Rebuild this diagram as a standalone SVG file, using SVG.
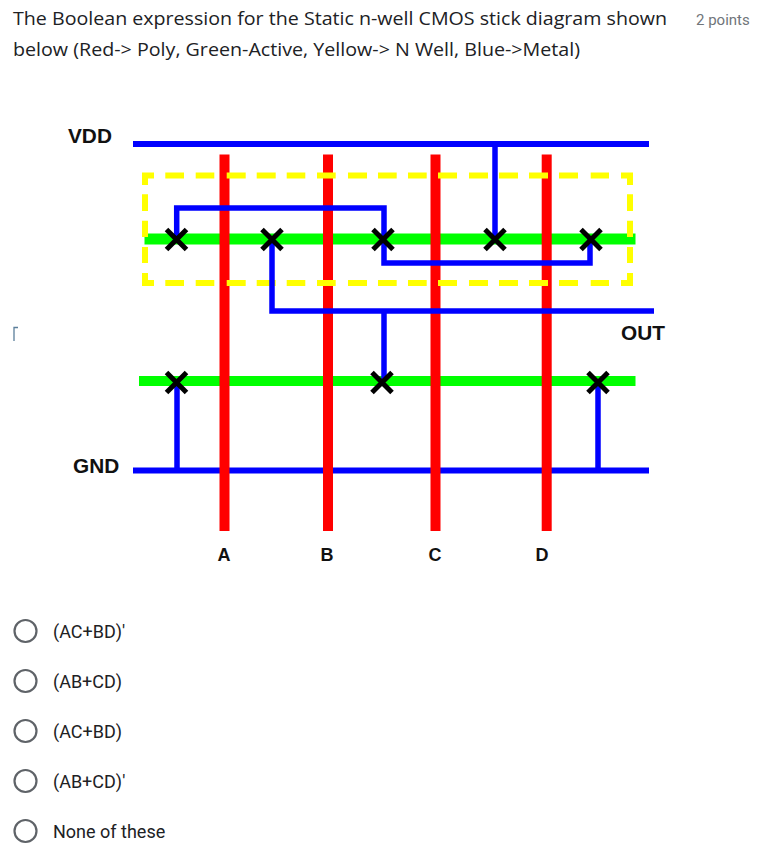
<svg xmlns="http://www.w3.org/2000/svg" width="759" height="861" viewBox="0 0 759 861">
<style>
.q{font-family:"Open Sans","Noto Sans",sans-serif;font-size:19px;fill:#202124}
.pts{font-family:Roboto,sans-serif;font-size:15px;fill:#70757a}
.lbl{font-family:"Liberation Sans",Arial,sans-serif;font-size:20.800px;font-weight:700;fill:#111}
.letter{font-family:"Liberation Sans",Arial,sans-serif;font-size:18px;font-weight:700;fill:#111;text-anchor:middle}
.opt{font-family:Roboto,sans-serif;font-size:18px;fill:#202124}
.radio{fill:none;stroke:#5f6368;stroke-width:2.2}
.m{fill:none;stroke:#0000ff;stroke-width:5.500}
.rail{fill:none;stroke:#0000ff;stroke-width:6}
.poly{fill:none;stroke:#ff0000;stroke-width:10}
.act{fill:none;stroke:#00ff00}
.well{fill:none;stroke:#ffff00;stroke-width:6}
.x{fill:none;stroke:#000;stroke-width:5}
</style>
<rect width="759" height="861" fill="#fff"/>
<g id="question">
<text class="q" x="13" y="25" textLength="654" lengthAdjust="spacingAndGlyphs">The Boolean expression for the Static n-well CMOS stick diagram shown</text>
<text class="q" x="13" y="55.500" textLength="567" lengthAdjust="spacingAndGlyphs">below (Red-&gt; Poly, Green-Active, Yellow-&gt; N Well, Blue-&gt;Metal)</text>
<text class="pts" x="696" y="25">2 points</text>
</g>
<path d="M14 341V327.500H18" fill="none" stroke="#5b7f9b" stroke-width="1.300"/>
<g id="active">
<path class="act" stroke-width="11" d="M144.500 239H635.500"/>
<path class="act" stroke-width="10" d="M139 381H635.500"/>
</g>
<g id="gnd-rail">
<path class="rail" d="M133 470.500H649"/>
</g>
<g id="poly">
<path class="poly" d="M224.500 154.500V531M328 154.500V531M435.500 154.500V531M546.700 154.500V531"/>
</g>
<g id="nwell">
<path class="well" d="M154 175.500H145V185M165.300 175.500H184M195.700 175.500H214.300M226.700 175.500H245.700M256.700 175.500H275.700M286.700 175.500H305.300M317 175.500H335.700M348 175.500H367M378 175.500H396.700M408 175.500H426.700M438 175.500H457M469 175.500H488M499 175.500H518M529 175.500H548M559 175.500H578M590.700 175.500H609M621 175.500H630V185"/>
<path class="well" d="M145 194.300V211M145 220.700V237M145 247V263M145 273V283H154M165.300 283H184M195.700 283H214.300M226.700 283H245.700M256.700 283H275.700M286.700 283H305.300M317 283H335.700M348 283H367M378 283H396.700M408 283H426.700M438 283H457M469 283H488M499 283H518M529 283H548M559 283H578M590.700 283H609M621 283H630V273M630 263V247M630 237V220.700M630 211V194.300"/>
</g>
<g id="connectors">
<path class="rail" d="M133 144H649"/>
<path class="m" d="M495 144V239"/>
<path class="m" d="M176.700 239V208H384V263H590V239"/>
<path class="m" d="M272 239V311H654"/>
<path class="m" d="M384 311V381"/>
<path class="m" d="M177 381V470M598 381V470"/>
</g>
<g id="contacts">
<path class="x" d="M166.500 229.500L186.500 249.500M186.500 229.500L166.500 249.500"/>
<path class="x" d="M262 229.500L282 249.500M282 229.500L262 249.500"/>
<path class="x" d="M373 229.500L393 249.500M393 229.500L373 249.500"/>
<path class="x" d="M485 229.500L505 249.500M505 229.500L485 249.500"/>
<path class="x" d="M581 229.500L601 249.500M601 229.500L581 249.500"/>
<path class="x" d="M166.500 372.500L186.500 392.500M186.500 372.500L166.500 392.500"/>
<path class="x" d="M372 372.500L392 392.500M392 372.500L372 392.500"/>
<path class="x" d="M588 372.500L608 392.500M608 372.500L588 392.500"/>
</g>
<g id="labels">
<text class="lbl" x="68" y="143">VDD</text>
<text class="lbl" x="73" y="473">GND</text>
<text class="lbl" x="621" y="340">OUT</text>
<text class="letter" x="224" y="561">A</text>
<text class="letter" x="327" y="561">B</text>
<text class="letter" x="435" y="561">C</text>
<text class="letter" x="542" y="561">D</text>
</g>
<g id="options">
<g id="opt1"><circle class="radio" cx="25.500" cy="631" r="11"/><text class="opt" x="53" y="638">(AC+BD)'</text></g>
<g id="opt2"><circle class="radio" cx="25.500" cy="681" r="11"/><text class="opt" x="53" y="688">(AB+CD)</text></g>
<g id="opt3"><circle class="radio" cx="25.500" cy="731" r="11"/><text class="opt" x="53" y="738">(AC+BD)</text></g>
<g id="opt4"><circle class="radio" cx="25.500" cy="781" r="11"/><text class="opt" x="53" y="788">(AB+CD)'</text></g>
<g id="opt5"><circle class="radio" cx="25.500" cy="831" r="11"/><text class="opt" x="53" y="838">None of these</text></g>
</g>
</svg>
